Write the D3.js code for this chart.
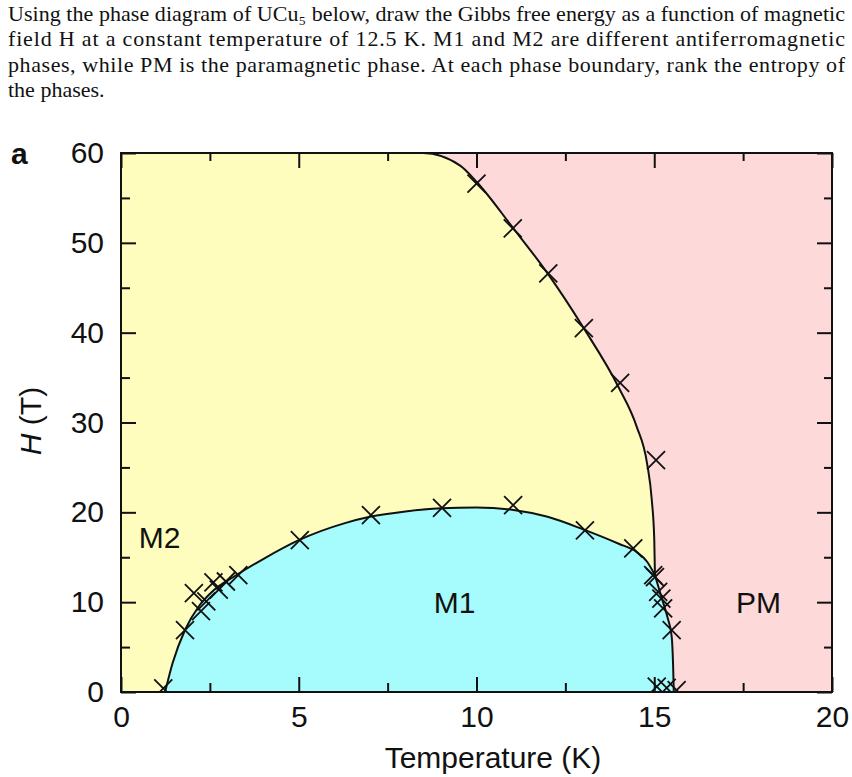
<!DOCTYPE html>
<html>
<head>
    <meta charset="utf-8">
    <title>UCu5 phase diagram</title>
    <script src="https://cdnjs.cloudflare.com/ajax/libs/d3/7.8.5/d3.min.js"></script>
    <style>
        body { margin: 0; background: #fff; }
        .q-text { font-family: "Liberation Serif", "DejaVu Serif", serif; font-size: 22px; fill: #111; }
        .ax text { font-family: "Liberation Sans", Arial, sans-serif; font-size: 30px; fill: #111; }
        .lbl { font-family: "Liberation Sans", Arial, sans-serif; font-size: 30px; fill: #111; }
    </style>
</head>
<body>
<div id="chart"></div>

<script type="text/javascript">
    var width = 852,
        height = 777;

    // question text, one entry per line (last line is not justified)
    var questionLines = [
        "Using the phase diagram of UCu\u2085 below, draw the Gibbs free energy as a function of magnetic",
        "field H at a constant temperature of 12.5 K. M1 and M2 are different antiferromagnetic",
        "phases, while PM is the paramagnetic phase. At each phase boundary, rank the entropy of",
        "the phases."
    ];

    // axis ticks
    var xMajor = [0, 5, 10, 15, 20],
        xMinor = [2.5, 7.5, 12.5, 17.5],
        yMajor = [0, 10, 20, 30, 40, 50, 60],
        yMinor = [5, 15, 25, 35, 45, 55];

    // phase boundaries, [T (K), H (T)]
    var boundaryM2PM = [[7.8, 60.0], [8.5, 60.0], [9.54, 58.6], [10.0, 56.8], [11.0, 51.8], [12.0, 46.6],
        [13.0, 40.6], [14.0, 33.9], [14.5, 29.6], [14.8, 25.4], [14.93, 21.4],
        [15.0, 17.0], [15.02, 13.0]];
    var boundaryM1M2 = [[1.24, 0.0], [1.45, 3.2], [1.8, 6.9], [2.2, 9.6], [2.6, 11.3], [3.16, 12.8],
        [4.0, 14.8], [5.0, 16.9], [6.3, 18.8], [7.0, 19.5], [8.0, 20.1], [9.0, 20.45], [10.0, 20.55],
        [11.0, 20.3], [12.0, 19.5], [13.0, 18.1], [14.0, 16.5], [14.5, 15.6], [14.8, 14.5], [15.02, 13.0]];
    var boundaryM1PM = [[15.02, 13.0], [15.2, 10.6], [15.38, 8.2], [15.49, 6.2], [15.53, 3.0], [15.55, 0.0]];

    // measured points (crosses)
    var crossesM2PM = [[10.0, 56.6], [11.02, 51.6], [12.02, 46.6], [13.02, 40.5], [14.04, 34.4], [15.05, 25.8]];
    var crossesM1M2 = [[1.19, 0.4], [1.8, 6.9], [2.05, 11.0], [2.25, 9.0], [2.4, 10.1], [2.6, 12.2],
        [2.75, 11.4], [2.95, 12.3], [3.3, 13.0], [5.03, 16.9], [7.03, 19.7], [9.03, 20.5],
        [11.03, 20.8], [13.05, 18.0], [14.41, 16.0], [14.97, 13.0]];
    var crossesM1PM = [[15.02, 12.8], [15.11, 11.15], [15.2, 10.4], [15.25, 9.3], [15.49, 6.9],
        [15.07, 0.6], [15.35, 0.45], [15.63, 0.2]];

    var phaseLabels = [["M2", 0.5, 16.0], ["M1", 8.8, 8.8], ["PM", 17.3, 8.8]];

    var svg = d3.select("#chart").append("svg")
        .attr("width", width)
        .attr("height", height);

    svg.append("rect").attr("width", width).attr("height", height).attr("fill", "#fff");

    ////////////////////////////////////////////////////////////
    /////////////////////// Question ///////////////////////////
    ////////////////////////////////////////////////////////////

    svg.selectAll(".q-text")
        .data(questionLines)
        .enter().append("text")
        .attr("class", "q-text")
        .attr("x", 8)
        .attr("y", function(d, i) { return 21 + i * 25.3; })
        .text(function(d) { return d; })
        .each(function(d, i) {
            // justified block: stretch every line except the last one
            if (i < questionLines.length - 1) {
                d3.select(this).attr("textLength", 837).attr("lengthAdjust", "spacing");
            }
        });

    ////////////////////////////////////////////////////////////
    //////////////////////// Chart /////////////////////////////
    ////////////////////////////////////////////////////////////

    var x = d3.scaleLinear().domain([0, 20]).range([121, 832]);
    var y = d3.scaleLinear().domain([0, 60]).range([692, 153]);

    svg.append("clipPath").attr("id", "plotClip")
        .append("rect")
        .attr("x", x(0)).attr("y", y(60))
        .attr("width", x(20) - x(0)).attr("height", y(0) - y(60));

    // every boundary has T increasing, so a monotone curve keeps them smooth
    var line = d3.line()
        .x(function(d) { return x(d[0]); })
        .y(function(d) { return y(d[1]); })
        .curve(d3.curveMonotoneX);

    // reverse an "M x,y C ... " path made only of cubic segments
    function reversePath(d) {
        var nums = d.replace(/[MC]/g, " ").trim().split(/[ ,]+/).map(Number);
        var pts = [];
        for (var i = 0; i < nums.length; i += 2) pts.push([nums[i], nums[i + 1]]);
        var out = "M" + pts[pts.length - 1];
        for (var k = pts.length - 1; k >= 3; k -= 3) {
            out += "C" + pts[k - 1] + "," + pts[k - 2] + "," + pts[k - 3];
        }
        return out;
    }

    var plot = svg.append("g").attr("clip-path", "url(#plotClip)");

    // PM everywhere, then M2, then M1 on top
    plot.append("rect")
        .attr("x", x(0)).attr("y", y(60))
        .attr("width", x(20) - x(0)).attr("height", y(0) - y(60))
        .attr("fill", "#fdd9d9");

    // M2 region: left edge, top edge, down the M2/PM line, back along the M1/M2 line
    var m2Path = "M" + x(0) + "," + y(0) + "L" + x(0) + "," + y(60)
        + line(boundaryM2PM).replace(/^M/, "L")
        + reversePath(line(boundaryM1M2)).replace(/^M/, "L") + "Z";
    plot.append("path").attr("d", m2Path).attr("fill", "#fefdbd");

    var m1Path = line(boundaryM1M2) + line(boundaryM1PM).replace(/^M/, "L") + "Z";
    plot.append("path").attr("d", m1Path).attr("fill", "#a6fbfd");

    [boundaryM2PM, boundaryM1M2, boundaryM1PM].forEach(function(b) {
        plot.append("path")
            .attr("d", line(b))
            .attr("fill", "none")
            .attr("stroke", "#111")
            .attr("stroke-width", 2);
    });

    var crosses = crossesM2PM.concat(crossesM1M2, crossesM1PM);
    plot.selectAll(".cross")
        .data(crosses)
        .enter().append("path")
        .attr("class", "cross")
        .attr("transform", function(d) { return "translate(" + x(d[0]) + "," + y(d[1]) + ")"; })
        .attr("d", "M-9,-9L9,9M-9,9L9,-9")
        .attr("stroke", "#111")
        .attr("stroke-width", 1.8);

    ////////////////////////////////////////////////////////////
    //////////////////////// Axes //////////////////////////////
    ////////////////////////////////////////////////////////////

    function addAxis(axis, tx, ty) {
        var g = svg.append("g").attr("class", "ax")
            .attr("transform", "translate(" + tx + "," + ty + ")")
            .call(axis);
        g.select(".domain").remove();
        g.selectAll(".tick line").attr("stroke", "#111").attr("stroke-width", 2);
        return g;
    }

    addAxis(d3.axisBottom(x).tickValues(xMajor).tickSize(-15).tickPadding(14).tickFormat(d3.format("d")), 0, y(0));
    addAxis(d3.axisBottom(x).tickValues(xMinor).tickSize(-9).tickFormat(""), 0, y(0));
    addAxis(d3.axisTop(x).tickValues(xMajor).tickSize(-15).tickFormat(""), 0, y(60));
    addAxis(d3.axisTop(x).tickValues(xMinor).tickSize(-8).tickFormat(""), 0, y(60));
    addAxis(d3.axisLeft(y).tickValues(yMajor).tickSize(-15).tickPadding(17).tickFormat(d3.format("d")), x(0), 0);
    addAxis(d3.axisLeft(y).tickValues(yMinor).tickSize(-9).tickFormat(""), x(0), 0);
    addAxis(d3.axisRight(y).tickValues(yMajor).tickSize(-15).tickFormat(""), x(20), 0);
    addAxis(d3.axisRight(y).tickValues(yMinor).tickSize(-8).tickFormat(""), x(20), 0);

    svg.append("rect")
        .attr("x", x(0)).attr("y", y(60))
        .attr("width", x(20) - x(0)).attr("height", y(0) - y(60))
        .attr("fill", "none")
        .attr("stroke", "#111")
        .attr("stroke-width", 2);

    // phase labels
    svg.selectAll(".phase")
        .data(phaseLabels)
        .enter().append("text")
        .attr("class", "lbl phase")
        .attr("x", function(d) { return x(d[1]); })
        .attr("y", function(d) { return y(d[2]); })
        .text(function(d) { return d[0]; });

    // axis titles and panel letter
    svg.append("text")
        .attr("class", "lbl")
        .attr("x", 493)
        .attr("y", 768)
        .attr("text-anchor", "middle")
        .text("Temperature (K)");

    var yTitle = svg.append("text")
        .attr("class", "lbl")
        .attr("font-size", 32)
        .attr("transform", "translate(41," + 421 + ") rotate(-90)")
        .attr("text-anchor", "middle");
    yTitle.append("tspan").attr("font-style", "italic").text("H");
    yTitle.append("tspan").text(" (T)");

    svg.append("text")
        .attr("class", "lbl")
        .attr("x", 11)
        .attr("y", 164)
        .attr("font-weight", "bold")
        .attr("font-size", 40)
        .text("a");
</script>
</body>
</html>
